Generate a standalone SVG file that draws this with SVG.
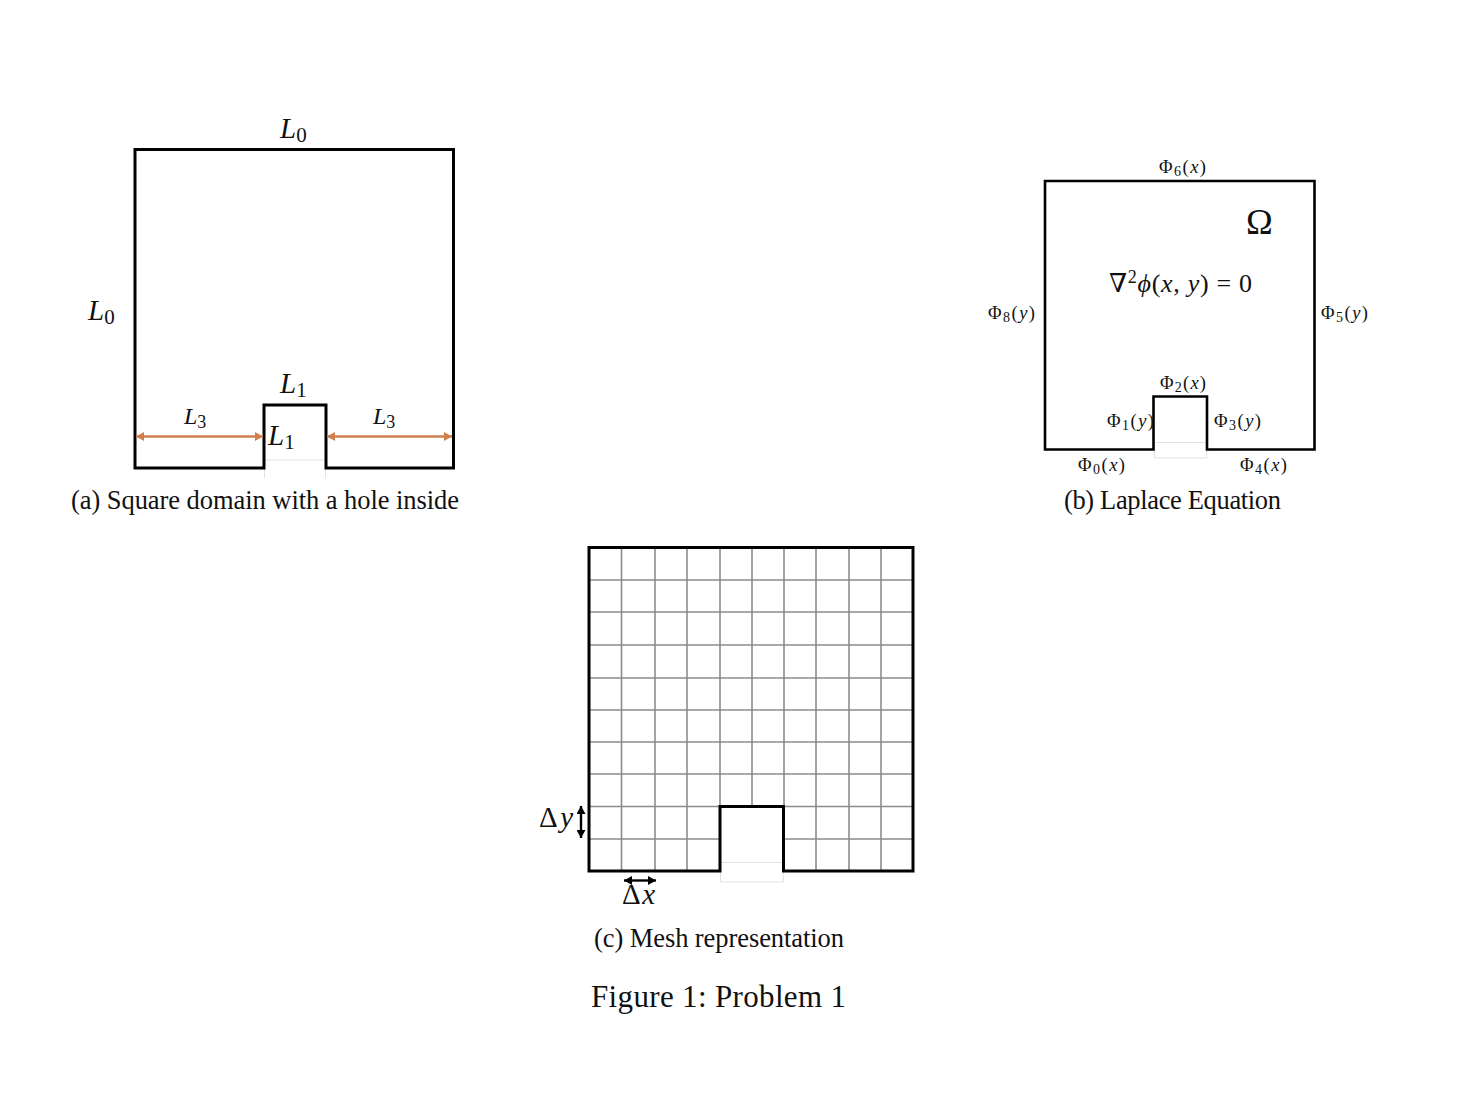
<svg xmlns="http://www.w3.org/2000/svg" width="1458" height="1096" viewBox="0 0 1458 1096">
<style>
text{font-family:"Liberation Serif","DejaVu Serif",serif;fill:#111}
.cap{font-size:26.500px;font-family:"Liberation Serif",serif}
.m{font-style:italic}
.up{font-style:normal}
.l{font-size:29px}
.s{font-size:18.500px}
.o{fill:none;stroke:#000;stroke-width:3;stroke-linejoin:miter}
.o2{fill:none;stroke:#000;stroke-width:2.6}
.f{fill:none;stroke:#e2e2e2;stroke-width:1}
.g{stroke:#8c8c8c;stroke-width:1.6;fill:none}
.oa{stroke:#d07f4e;stroke-width:2.6;fill:none;marker-start:url(#oS);marker-end:url(#oE)}
.ba{stroke:#000;stroke-width:2.4;fill:none;marker-start:url(#bS);marker-end:url(#bE)}
</style>
<defs>
<marker id="oE" markerUnits="userSpaceOnUse" markerWidth="9" markerHeight="9" refX="8" refY="4.5" orient="auto"><path d="M0 0L8 4.5L0 9z" fill="#d07f4e"/></marker>
<marker id="oS" markerUnits="userSpaceOnUse" markerWidth="9" markerHeight="9" refX="1" refY="4.5" orient="auto"><path d="M9 0L1 4.5L9 9z" fill="#d07f4e"/></marker>
<marker id="bE" markerUnits="userSpaceOnUse" markerWidth="9" markerHeight="9" refX="8" refY="4.5" orient="auto"><path d="M0 0L8 4.5L0 9z" fill="#000"/></marker>
<marker id="bS" markerUnits="userSpaceOnUse" markerWidth="9" markerHeight="9" refX="1" refY="4.5" orient="auto"><path d="M9 0L1 4.5L9 9z" fill="#000"/></marker>
</defs>
<rect width="1458" height="1096" fill="#fff"/>

<g id="domain-a">
<path class="f" d="M264 460H326M264.500 468V478M325.500 468V478"/>
<path class="o" d="M135 149.500H453.500V468H326V405H264V468H135z"/>
</g>
<g id="connectors">
<path class="oa" d="M136 436.500H263"/>
<path class="oa" d="M327 436.500H452"/>
<path class="ba" d="M581 806V838"/>
<path class="ba" d="M624 880.500H656"/>
</g>
<g id="labels-a">
<text class="m l" x="280" y="138">L<tspan class="up" dy="4" font-size="21">0</tspan></text>
<text class="m l" x="88" y="320">L<tspan class="up" dy="4" font-size="21">0</tspan></text>
<text class="m l" x="280" y="393">L<tspan class="up" dy="4" font-size="21">1</tspan></text>
<text class="m l" x="268" y="445">L<tspan class="up" dy="4" font-size="21">1</tspan></text>
<text class="m" font-size="24" x="184" y="424">L<tspan class="up" dy="4" font-size="18">3</tspan></text>
<text class="m" font-size="24" x="373" y="424">L<tspan class="up" dy="4" font-size="18">3</tspan></text>
<text class="cap" x="71" y="509" textLength="388" lengthAdjust="spacing">(a) Square domain with a hole inside</text>
</g>

<g id="domain-b">
<path class="f" d="M1154 442.500H1207M1154.500 450V458H1206.500V450" stroke="#d8d8d8"/>
<path class="o2" d="M1045 181H1314.500V449.500H1207V396.500H1153.500V449.500H1045z"/>
</g>
<g id="labels-b">
<text class="s" x="1159" y="173" textLength="47" lengthAdjust="spacing"><tspan class="up">Φ</tspan><tspan class="up" dy="3" font-size="14">6</tspan><tspan dy="-3">(</tspan><tspan class="m">x</tspan>)</text>
<text class="s" x="1321" y="319" textLength="47" lengthAdjust="spacing"><tspan class="up">Φ</tspan><tspan class="up" dy="3" font-size="14">5</tspan><tspan dy="-3">(</tspan><tspan class="m">y</tspan>)</text>
<text class="s" x="988" y="319" textLength="47" lengthAdjust="spacing"><tspan class="up">Φ</tspan><tspan class="up" dy="3" font-size="14">8</tspan><tspan dy="-3">(</tspan><tspan class="m">y</tspan>)</text>
<text class="s" x="1160" y="389" textLength="46" lengthAdjust="spacing"><tspan class="up">Φ</tspan><tspan class="up" dy="3" font-size="14">2</tspan><tspan dy="-3">(</tspan><tspan class="m">x</tspan>)</text>
<text class="s" x="1107" y="427" textLength="47" lengthAdjust="spacing"><tspan class="up">Φ</tspan><tspan class="up" dy="3" font-size="14">1</tspan><tspan dy="-3">(</tspan><tspan class="m">y</tspan>)</text>
<text class="s" x="1214" y="427" textLength="47" lengthAdjust="spacing"><tspan class="up">Φ</tspan><tspan class="up" dy="3" font-size="14">3</tspan><tspan dy="-3">(</tspan><tspan class="m">y</tspan>)</text>
<text class="s" x="1078" y="471" textLength="47" lengthAdjust="spacing"><tspan class="up">Φ</tspan><tspan class="up" dy="3" font-size="14">0</tspan><tspan dy="-3">(</tspan><tspan class="m">x</tspan>)</text>
<text class="s" x="1240" y="471" textLength="47" lengthAdjust="spacing"><tspan class="up">Φ</tspan><tspan class="up" dy="3" font-size="14">4</tspan><tspan dy="-3">(</tspan><tspan class="m">x</tspan>)</text>
<text font-size="36" x="1246" y="234">Ω</text>
<text font-size="26" x="1109" y="292" textLength="143" lengthAdjust="spacing">∇<tspan dy="-9" font-size="18">2</tspan><tspan class="m" dy="9">ϕ</tspan>(<tspan class="m">x</tspan>, <tspan class="m">y</tspan>) = 0</text>
<text class="cap" x="1064" y="509" textLength="217" lengthAdjust="spacing">(b) Laplace Equation</text>
</g>

<g id="mesh-c">
<path class="g" d="M621.500 547V871M655 547V871M687 547V871M720 547V871M752 547V806M784 547V871M816 547V871M849 547V871M881 547V871"/>
<path class="g" d="M589 580H913M589 612H913M589 645H913M589 678H913M589 710H913M589 742H913M589 774H913M589 806.500H913M589 839H720M784 839H913"/>
<path class="f" d="M721 862.500H783M720.500 872V882H783.500V872"/>
<path class="o" d="M589 547.500H913V871H783.500V806.500H720V871H589z"/>
</g>
<g id="labels-c">
<text class="l" x="539" y="827" textLength="34" lengthAdjust="spacing"><tspan>Δ</tspan><tspan class="m">y</tspan></text>
<text class="l" x="622" y="904" textLength="33" lengthAdjust="spacing"><tspan>Δ</tspan><tspan class="m">x</tspan></text>
<text class="cap" x="594" y="947" textLength="250" lengthAdjust="spacing">(c) Mesh representation</text>
<text font-size="31" x="591" y="1007" textLength="255" lengthAdjust="spacing">Figure 1: Problem 1</text>
</g>
</svg>
